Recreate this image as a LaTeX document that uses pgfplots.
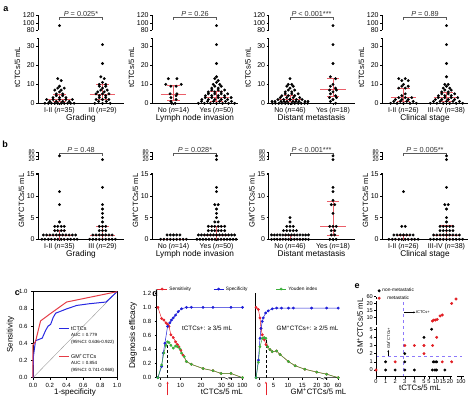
\documentclass[border=0pt]{standalone}
\usepackage{fontspec}
\setmainfont{Liberation Sans}
\usepackage{pgfplots}
\pgfplotsset{compat=1.18}
\usetikzlibrary{arrows.meta}
\definecolor{medred}{RGB}{235,95,105}
\definecolor{brgray}{RGB}{90,90,90}
\definecolor{rocblue}{RGB}{40,40,225}
\definecolor{rocred}{RGB}{228,60,70}
\definecolor{dred}{RGB}{230,35,45}
\definecolor{dblue}{RGB}{30,30,215}
\definecolor{dgreen}{RGB}{60,175,60}
\definecolor{epurple}{RGB}{140,120,250}
\definecolor{ered}{RGB}{225,30,35}
\newcommand{\medA}[3]{%
 \addplot[medred,line width=0.6pt] coordinates {(0.2,#2) (0.8,#2)};
 \addplot[medred,line width=0.6pt] coordinates {(0.36,#1) (0.64,#1)};
 \addplot[medred,line width=0.6pt] coordinates {(0.36,#3) (0.64,#3)};
 \addplot[medred,line width=0.6pt] coordinates {(0.5,#1) (0.5,#3)};}
\newcommand{\medB}[3]{%
 \addplot[medred,line width=0.6pt] coordinates {(1.2,#2) (1.8,#2)};
 \addplot[medred,line width=0.6pt] coordinates {(1.36,#1) (1.64,#1)};
 \addplot[medred,line width=0.6pt] coordinates {(1.36,#3) (1.64,#3)};
 \addplot[medred,line width=0.6pt] coordinates {(1.5,#1) (1.5,#3)};}
\newcommand{\fP}{\fontsize{7.3}{8}\selectfont}
\newcommand{\bracketA}[1]{%
 \draw[brgray,line width=0.6pt] (rel axis cs:0.25,0.945)--(rel axis cs:0.25,0.974)--(rel axis cs:0.75,0.974)--(rel axis cs:0.75,0.945);
 \node[font=\fP,anchor=south,inner sep=0.6pt,text=black!80] at (rel axis cs:0.5,0.974) {#1};}
\newcommand{\bracketB}[1]{%
 \draw[brgray,line width=0.6pt] (rel axis cs:0.25,0.955)--(rel axis cs:0.25,0.985)--(rel axis cs:0.75,0.985)--(rel axis cs:0.75,0.955);
 \node[font=\fP,anchor=south,inner sep=0.6pt,text=black!80] at (rel axis cs:0.5,0.985) {#1};}
\newcommand{\yaxA}{%
 \draw[line width=0.5pt] (axis cs:0,0)--(axis cs:0,34.5) (axis cs:0,34.5)--++(-1.5pt,0);
 \draw[line width=0.5pt] (axis cs:0,38.6)--(axis cs:0,46.6);}
\newcommand{\yaxB}{%
 \draw[line width=0.5pt] (axis cs:0,0)--(axis cs:0,15.3) (axis cs:0,15.3)--++(-1.5pt,0);
 \draw[line width=0.5pt] (axis cs:0,18.4)--(axis cs:0,20.25);}
\newcommand{\sm}{\fontsize{5.4}{6}\selectfont}
\pgfplotsset{
 base/.style={scale only axis, clip=false, tick align=outside, major tick length=2pt,
   tick style={black,line width=0.5pt}, axis line style={-,line width=0.5pt},
   /pgf/number format/assume math mode=true},
 scat/.style={base, width=86pt, xmin=0, xmax=2,
   axis x line*=bottom, axis y line*=left, y axis line style={draw=none},
   xtick={0.5,1.5},
   yticklabel style={font=\fontsize{7}{8}\selectfont, inner sep=1.2pt},
   xticklabel style={font=\fontsize{7}{8}\selectfont, inner sep=1.5pt},
   xlabel style={font=\fontsize{8.3}{9}\selectfont, yshift=4.5pt},
   ylabel style={font=\fontsize{7.6}{8}\selectfont, yshift=-2pt}},
 rowa/.style={scat, height=88.3pt, ymin=0, ymax=46.6,
   ytick={0,10,20,30,38.6,42.5,46.5}, yticklabels={0,10,20,30,80,100,120},
   y filter/.expression={y>50 ? 38.6+(y-80)*0.197 : y},
   ylabel={tCTCs/5 mL}, ylabel style={at={(ticklabel cs:0.41)}}},
 rowb/.style={scat, height=87.6pt, ymin=0, ymax=20.25,
   ytick={0,5,10,15,18.4,19.3,20.2}, yticklabels={0,5,10,15,{\sm 20},{\sm 50},{\sm 80}},
   y filter/.expression={y>17 ? 18.4+(y-20)*0.03 : y},
   ylabel={GM\textsuperscript{+}CTCs/5 mL}, ylabel style={at={(ticklabel cs:0.44)}}},
 dots/.style={only marks, mark=*, mark size=1.25pt, black},
 dsty/.style={mark=*, mark size=1.15pt, line width=0.5pt},
}
\begin{document}
\begin{tikzpicture}
\path[use as bounding box] (0,0) rectangle (474pt,396pt);
% ================= ROW A =================
\begin{axis}[rowa, at={(38pt,292.7pt)}, anchor=south west,
  xticklabels={I-II (\textit{n}=35), III (\textit{n}=29)}, xlabel={Grading}]
\addplot[dots] coordinates {(.16,0)(.24,0)(.31,0)(.39,0)(.46,0)(.54,0)(.61,0)(.69,0)(.76,0)(.84,0)
(.2,2)(.275,1)(.35,2)(.425,1)(.5,2)(.575,1)(.65,2)(.725,1)(.8,2)
(.35,3)(.425,4)(.5,3)(.575,4)(.65,3)(.425,5)(.5,6)(.575,5)
(.39,7)(.46,8)(.54,7)(.61,8)(.5,9)(.46,13)(.54,12)(.5,92)};
\addplot[dots] coordinates {(1.32,0)(1.41,1)(1.5,0)(1.59,1)(1.68,0)
(1.35,2)(1.425,3)(1.5,2)(1.575,3)(1.65,2)(1.35,5)(1.425,4)(1.5,5)(1.575,4)(1.65,5)
(1.39,6)(1.46,7)(1.54,6)(1.61,7)(1.425,9)(1.5,8)(1.575,9)(1.425,10)(1.5,11)(1.575,10)
(1.46,14)(1.54,13)(1.5,21)(1.5,31)};
\medA{1}{2}{5}\medB{2}{5}{10}
\yaxA
\bracketA{\textit{P} = 0.025*}
\end{axis}
\begin{axis}[rowa, at={(152pt,292.7pt)}, anchor=south west,
  xticklabels={No (\textit{n}=14), Yes (\textit{n}=50)}, xlabel={Lymph node invasion}]
\addplot[dots] coordinates {(.46,0)(.54,0)(.44,1)(.56,2)(.44,3)(.56,4)(.42,5)(.58,5)(.32,10)(.44,9)(.56,9)(.68,10)(.38,13)(.58,13)};
\addplot[dots] coordinates {(1.08,0)(1.15,1)(1.22,0)(1.29,1)(1.36,0)(1.43,1)(1.5,0)(1.57,1)(1.64,0)(1.71,1)(1.78,0)(1.85,1)(1.92,0)
(1.16,2)(1.24,3)(1.31,2)(1.39,3)(1.46,2)(1.54,3)(1.61,2)(1.69,3)(1.76,2)(1.84,3)
(1.24,4)(1.31,5)(1.39,4)(1.46,5)(1.54,4)(1.61,5)(1.69,4)(1.76,5)
(1.31,6)(1.39,7)(1.46,6)(1.54,7)(1.61,6)(1.69,7)(1.39,8)(1.46,9)(1.54,8)(1.61,9)
(1.425,10)(1.5,11)(1.575,10)(1.46,13)(1.54,12)(1.5,14)(1.5,21)(1.5,31)(1.5,92)};
\medA{1.5}{5}{9.5}\medB{1}{3}{6.5}
\yaxA
\bracketA{\textit{P} = 0.26}
\end{axis}
\begin{axis}[rowa, at={(268.5pt,292.7pt)}, anchor=south west,
  xticklabels={No (\textit{n}=46), Yes (\textit{n}=18)}, xlabel={Distant metastasis}]
\addplot[dots] coordinates {(.09,0)(.16,0)(.24,0)(.31,0)(.39,0)(.46,0)(.54,0)(.61,0)(.69,0)(.76,0)(.84,0)(.91,0)
(.08,1)(.15,1)(.22,2)(.29,1)(.36,1)(.43,1)(.5,2)(.57,1)(.64,1)(.71,1)(.78,2)(.85,1)(.92,1)
(.275,3)(.35,2)(.425,3)(.5,2)(.575,3)(.65,2)(.725,3)(.31,4)(.39,5)(.46,4)(.54,5)(.61,4)(.69,5)
(.39,6)(.46,7)(.54,6)(.61,7)(.425,9)(.5,8)(.575,9)(.46,10)(.54,10)(.5,13)};
\addplot[dots] coordinates {(1.5,92)(1.5,31)(1.5,21)(1.44,14)(1.56,13)(1.5,10)(1.44,9)(1.56,8)(1.42,7)(1.58,7)(1.5,6)(1.44,5)(1.56,4)(1.42,3)(1.58,3)(1.5,2)(1.44,1)(1.56,0)};
\medA{1}{2}{4}\medB{3.5}{7.5}{13}
\yaxA
\bracketA{\textit{P} < 0.001***}
\end{axis}
\begin{axis}[rowa, at={(382pt,292.7pt)}, anchor=south west,
  xticklabels={I-II (\textit{n}=26), III-IV (\textit{n}=38)}, xlabel={Clinical stage}]
\addplot[dots] coordinates {(.2,0)(.275,1)(.35,0)(.425,1)(.5,0)(.575,1)(.65,0)(.725,1)(.8,0)
(.31,2)(.39,3)(.46,2)(.54,3)(.61,2)(.69,3)(.46,4)(.54,5)(.39,8)(.46,9)(.54,8)(.61,9)(.5,10)
(.39,13)(.46,12)(.54,13)(.61,12)};
\addplot[dots] coordinates {(1.125,0)(1.2,1)(1.275,0)(1.35,1)(1.425,0)(1.5,1)(1.575,0)(1.65,1)(1.725,0)(1.8,1)(1.875,0)
(1.24,2)(1.31,3)(1.39,2)(1.46,3)(1.54,2)(1.61,3)(1.69,2)(1.76,3)
(1.31,4)(1.39,5)(1.46,4)(1.54,5)(1.61,4)(1.69,5)(1.39,6)(1.46,7)(1.54,6)(1.61,7)
(1.425,8)(1.5,9)(1.575,8)(1.46,10)(1.54,10)(1.5,14)(1.5,21)(1.5,31)(1.5,92)};
\medA{1}{3}{8}\medB{1}{3}{6}
\yaxA
\bracketA{\textit{P} = 0.89}
\end{axis}
% ================= ROW B =================
\begin{axis}[rowb, at={(38pt,156.7pt)}, anchor=south west,
  xticklabels={I-II (\textit{n}=35), III (\textit{n}=29)}, xlabel={Grading}]
\addplot[dots] coordinates {(.09,0)(.16,0)(.24,0)(.31,0)(.39,0)(.46,0)(.54,0)(.61,0)(.69,0)(.76,0)(.84,0)(.91,0)
(.125,1)(.2,1)(.275,1)(.35,1)(.425,1)(.5,1)(.575,1)(.65,1)(.725,1)(.8,1)(.875,1)
(.39,2)(.46,2)(.54,2)(.61,2)(.39,3)(.46,3)(.54,3)(.61,3)(.5,4)(.5,8)(.5,11)(.5,50)};
\addplot[dots] coordinates {(1.2,0)(1.275,0)(1.35,0)(1.425,0)(1.5,0)(1.575,0)(1.65,0)(1.725,0)(1.8,0)
(1.275,1)(1.35,1)(1.425,1)(1.5,1)(1.575,1)(1.65,1)(1.725,1)(1.425,2)(1.5,2)(1.575,2)
(1.425,3)(1.5,3)(1.575,3)(1.5,4)(1.5,5)(1.5,6)(1.5,7)(1.5,8)(1.5,12)(1.5,21)};
\medA{0}{1}{2}\medB{0}{1}{3}
\yaxB
\bracketB{\textit{P} = 0.48}
\end{axis}
\begin{axis}[rowb, at={(152pt,156.7pt)}, anchor=south west,
  xticklabels={No (\textit{n}=14), Yes (\textit{n}=50)}, xlabel={Lymph node invasion}]
\addplot[dots] coordinates {(.2,0)(.275,0)(.35,0)(.425,0)(.5,0)(.575,0)(.65,0)(.725,0)(.8,0)
(.35,1)(.425,1)(.5,1)(.575,1)(.65,1)};
\addplot[dots] coordinates {(1.045,0)(1.115,0)(1.185,0)(1.255,0)(1.325,0)(1.395,0)(1.465,0)(1.535,0)(1.605,0)(1.675,0)(1.745,0)(1.815,0)(1.885,0)(1.955,0)
(1.08,1)(1.15,1)(1.22,1)(1.29,1)(1.36,1)(1.43,1)(1.5,1)(1.57,1)(1.64,1)(1.71,1)(1.78,1)(1.85,1)(1.92,1)
(1.31,2)(1.39,2)(1.46,2)(1.54,2)(1.61,2)(1.69,2)(1.31,3)(1.39,3)(1.46,3)(1.54,3)(1.61,3)(1.69,3)
(1.46,4)(1.54,4)(1.5,5)(1.5,6)(1.5,7)(1.46,8)(1.54,8)(1.5,11)(1.5,12)(1.5,21)(1.5,50)};
\medA{0}{0}{0}\medB{0}{1}{3}
\yaxB
\bracketB{\textit{P} = 0.028*}
\end{axis}
\begin{axis}[rowb, at={(268.5pt,156.7pt)}, anchor=south west,
  xticklabels={No (\textit{n}=46), Yes (\textit{n}=18)}, xlabel={Distant metastasis}]
\addplot[dots] coordinates {(.07,0)(.136,0)(.202,0)(.268,0)(.334,0)(.4,0)(.466,0)(.534,0)(.6,0)(.666,0)(.732,0)(.798,0)(.864,0)(.93,0)
(.07,1)(.136,1)(.202,1)(.268,1)(.334,1)(.4,1)(.466,1)(.534,1)(.6,1)(.666,1)(.732,1)(.798,1)(.864,1)(.93,1)
(.35,2)(.425,2)(.5,2)(.575,2)(.65,2)(.425,3)(.5,3)(.575,3)(.5,4)(.5,5)};
\addplot[dots] coordinates {(1.5,50)(1.5,21)(1.5,12)(1.5,11)(1.5,9)(1.46,8)(1.54,8)(1.5,6)(1.425,3)(1.5,3)(1.575,3)(1.46,2)(1.54,2)(1.46,1)(1.54,1)(1.425,0)(1.5,0)(1.575,0)};
\medA{0}{0}{1}\medB{1}{3}{8.8}
\yaxB
\bracketB{\textit{P} < 0.001***}
\end{axis}
\begin{axis}[rowb, at={(382pt,156.7pt)}, anchor=south west,
  xticklabels={I-II (\textit{n}=26), III-IV (\textit{n}=38)}, xlabel={Clinical stage}]
\addplot[dots] coordinates {(.16,0)(.24,0)(.31,0)(.39,0)(.46,0)(.54,0)(.61,0)(.69,0)(.76,0)(.84,0)
(.275,1)(.35,1)(.425,1)(.5,1)(.575,1)(.65,1)(.725,1)(.46,3)(.54,3)(.5,11)};
\addplot[dots] coordinates {(1.125,0)(1.2,0)(1.275,0)(1.35,0)(1.425,0)(1.5,0)(1.575,0)(1.65,0)(1.725,0)(1.8,0)(1.875,0)
(1.2,1)(1.275,1)(1.35,1)(1.425,1)(1.5,1)(1.575,1)(1.65,1)(1.725,1)(1.8,1)
(1.35,2)(1.425,2)(1.5,2)(1.575,2)(1.65,2)(1.35,3)(1.425,3)(1.5,3)(1.575,3)(1.65,3)
(1.5,4)(1.5,5)(1.5,7)(1.46,8)(1.54,8)(1.5,12)(1.5,21)(1.5,50)};
\medA{0}{0}{1}\medB{0}{1}{3.3}
\yaxB
\bracketB{\textit{P} = 0.005**}
\end{axis}
% ================= PANEL C =================
\begin{axis}[base, width=84pt, height=86pt, at={(33pt,18.3pt)}, anchor=south west,
  xmin=0, xmax=1, ymin=0, ymax=1, tick pos=left,
  xtick={0,0.2,0.4,0.6,0.8,1}, ytick={0,0.2,0.4,0.6,0.8,1},
  ticklabel style={font=\fontsize{6}{7}\selectfont, /pgf/number format/.cd, fixed, fixed zerofill, precision=1},
  xlabel={1-specificity}, ylabel={Sensitivity},
  label style={font=\fontsize{8}{9}\selectfont},
  xlabel style={yshift=6pt}, ylabel style={yshift=-2pt}]
\addplot[gray!80, line width=0.4pt] coordinates {(0,0)(1,1)};
\addplot[rocblue, line width=1pt] coordinates {(0,0)(0.005,0.25)(0.03,0.43)(0.11,0.46)(0.15,0.55)(0.18,0.6)(0.21,0.62)(0.24,0.7)(0.27,0.75)(0.4,0.8)(0.52,0.84)(0.67,0.86)(0.87,0.88)(1,1)};
\addplot[rocred, line width=1pt] coordinates {(0,0)(0,0.38)(0.03,0.42)(0.05,0.5)(0.09,0.66)(0.2,0.74)(0.4,0.88)(0.7,0.94)(1,1)};
\draw[rocblue, line width=1pt] (axis cs:0.31,0.575)--(axis cs:0.43,0.575);
\node[anchor=west, inner sep=1pt, font=\fontsize{5.4}{6}\selectfont] at (axis cs:0.44,0.575) {tCTCs};
\node[anchor=west, inner sep=1pt, font=\fontsize{4.5}{5}\selectfont] at (axis cs:0.44,0.50) {AUC = 0.779};
\node[anchor=west, inner sep=1pt, font=\fontsize{4.5}{5}\selectfont] at (axis cs:0.44,0.415) {(95\%CI: 0.636-0.922)};
\draw[rocred, line width=1pt] (axis cs:0.31,0.25)--(axis cs:0.43,0.25);
\node[anchor=west, inner sep=1pt, font=\fontsize{5.4}{6}\selectfont] at (axis cs:0.44,0.25) {GM\textsuperscript{+}CTCs};
\node[anchor=west, inner sep=1pt, font=\fontsize{4.5}{5}\selectfont] at (axis cs:0.44,0.17) {AUC = 0.854};
\node[anchor=west, inner sep=1pt, font=\fontsize{4.5}{5}\selectfont] at (axis cs:0.44,0.085) {(95\%CI: 0.741-0.968)};
\end{axis}
% ================= PANEL D =================
\begin{axis}[base, width=86.8pt, height=84.4pt, at={(156.7pt,18.3pt)}, anchor=south west,
  xmin=-1.6, xmax=40.7, ymin=0, ymax=1.2,
  axis x line*=bottom, axis y line*=left, x axis line style={draw=none},
  xtick={0,10,20,30,34.6,40.2}, xticklabels={0,10,20,30,50,100},
  ytick={0,0.2,0.4,0.6,0.8,1.0,1.2},
  ticklabel style={font=\fontsize{6}{7}\selectfont},
  yticklabel style={/pgf/number format/.cd, fixed, fixed zerofill, precision=1},
  x filter/.expression={x>40 ? 34.6+(x-50)*0.112 : x},
  ylabel={Diagnosis efficacy}, ylabel style={font=\fontsize{8.3}{9}\selectfont, yshift=-1pt},
  legend columns=3,
  legend style={at={(0.0,1.05)}, anchor=west, draw=none, fill=none, inner sep=0pt,
    font=\fontsize{4.8}{5.5}\selectfont, column sep=0pt},
  legend image code/.code={\draw[mark repeat=2,mark phase=2,#1] plot coordinates {(0pt,0pt)(5pt,0pt)(10pt,0pt)};}]
\addplot[dsty, dred] coordinates {(-1,1.0)(0.8,0.84)(1.9,0.82)(2.9,0.78)(3.7,0.76)(4.4,0.73)(5.3,0.61)(6.5,0.57)(7.6,0.51)(8.5,0.47)(9.2,0.44)(10.2,0.39)(11.3,0.32)(12.9,0.23)(15.3,0.19)(21,0.13)(25.8,0.10)(29.8,0.06)(50,0.06)(100,0)};
\addplot[dsty, dblue] coordinates {(-1,0)(0.8,0.16)(1.6,0.35)(2.4,0.49)(3.7,0.73)(4.8,0.78)(5.6,0.82)(6.5,0.85)(7.6,0.89)(8.9,0.94)(10.5,0.98)(12.9,1.0)(15.3,1.0)(21,1.0)(25.8,1.0)(50,1.0)(100,1.0)};
\addplot[dsty, dgreen] coordinates {(-1,0)(0.8,0.18)(1.9,0.35)(2.9,0.46)(3.7,0.51)(4.4,0.50)(5.3,0.46)(6.5,0.42)(7.6,0.45)(8.5,0.44)(9.7,0.41)(10.5,0.35)(11.8,0.30)(12.9,0.23)(15.3,0.19)(21,0.13)(25.8,0.10)(29.8,0.06)(50,0.06)(100,0)};
\legend{\makebox[42pt][l]{Sensitivity}, \makebox[48pt][l]{Specificity}, Youden index}
\addplot[black, densely dashed, line width=0.5pt, forget plot] coordinates {(3.7,0)(3.7,0.51)};
\draw[line width=0.5pt] (axis cs:-1.6,0)--(axis cs:31.5,0) (axis cs:31.5,0)--++(0,-1.5pt);
\draw[line width=0.5pt] (axis cs:33.3,0)--(axis cs:40.7,0) (axis cs:33.3,0)--++(0,-1.5pt);
\draw[dred, line width=0.6pt, -{Stealth[length=2.2pt,width=2pt]}] (axis cs:3.7,-0.25)--(axis cs:3.7,-0.055);
\node[font=\fontsize{6.3}{7}\selectfont] at (axis cs:23,0.70) {tCTCs+: ≥ 3/5 mL};
\node[font=\fontsize{7.8}{9}\selectfont] at (rel axis cs:0.75,0) [yshift=-13.6pt] {tCTCs/5 mL};
\end{axis}
\begin{axis}[base, width=83.8pt, height=84.4pt, at={(255.5pt,18.3pt)}, anchor=south west,
  xmin=-1.2, xmax=27.8, ymin=0, ymax=1.2,
  axis x line*=bottom, axis y line*=left, x axis line style={draw=none},
  xtick={0,5,10,15,20,23.4,27.4}, xticklabels={0,5,10,15,20,30,60}, ytick=\empty,
  ticklabel style={font=\fontsize{6}{7}\selectfont},
  x filter/.expression={x>25 ? 23.4+(x-30)*0.134 : x}]
\addplot[dsty, dred] coordinates {(-1,1.0)(-0.2,0.97)(0.35,0.85)(0.7,0.70)(1.15,0.61)(1.85,0.54)(2.4,0.47)(3,0.44)(3.8,0.40)(4.6,0.37)(6.1,0.38)(7.3,0.33)(10.2,0.23)(12.5,0.17)(15.9,0.12)(20,0.08)(30,0.05)(60,0)};
\addplot[dsty, dblue] coordinates {(-1,0)(-0.2,0.25)(0.35,0.56)(0.7,0.70)(1.15,0.80)(1.5,0.85)(2.3,0.92)(3.2,0.95)(4.6,0.98)(6.1,0.99)(7.8,0.99)(10.2,0.99)(11.9,0.99)(18.2,0.99)(30,0.99)(60,0.99)};
\addplot[dsty, dgreen] coordinates {(-1,0)(-0.2,0.22)(0.35,0.44)(1.15,0.56)(1.85,0.57)(2.4,0.56)(3,0.44)(3.8,0.40)(4.6,0.37)(6.1,0.38)(7.3,0.33)(10.2,0.23)(12.5,0.17)(15.9,0.12)(20,0.08)(30,0.05)(60,0)};
\addplot[black, densely dashed, line width=0.5pt] coordinates {(2.4,0)(2.4,0.56)};
\draw[line width=0.5pt] (axis cs:-1.2,0)--(axis cs:21.2,0) (axis cs:21.2,0)--++(0,-1.5pt);
\draw[line width=0.5pt] (axis cs:22.5,0)--(axis cs:27.8,0) (axis cs:22.5,0)--++(0,-1.5pt);
\draw[dred, line width=0.6pt, -{Stealth[length=2.2pt,width=2pt]}] (axis cs:2.4,-0.25)--(axis cs:2.4,-0.055);
\node[font=\fontsize{6.3}{7}\selectfont] at (axis cs:16.8,0.70) {GM\textsuperscript{+}CTCs+: ≥ 2/5 mL};
\node[font=\fontsize{7.8}{9}\selectfont] at (rel axis cs:0.75,0) [yshift=-13.6pt] {GM\textsuperscript{+}CTCs/5 mL};
\end{axis}
% ================= PANEL E =================
\begin{axis}[base, width=87.8pt, height=80.2pt, at={(376pt,19.3pt)}, anchor=south west,
  xmin=0, xmax=9.15, ymin=-0.82, ymax=9.0,
  axis x line*=bottom, axis y line*=left, x axis line style={draw=none}, y axis line style={draw=none},
  xtick={0,1,2,3,4,5,5.52,6.25,6.98,7.71,8.85}, xticklabels={0,1,2,3,4,5,5,10,15,20,100},
  ytick={0,1,2,3,4,5,6.45,7.30,8.16,8.98}, yticklabels={0,1,2,3,4,5,10,15,20,60},
  ticklabel style={font=\fontsize{5.6}{6}\selectfont, inner sep=1pt},
  x filter/.expression={x>20 ? 7.71+(x-20)*0.01425 : (x>5 ? 5.52+(x-5)*0.1458 : x)},
  y filter/.expression={y>20 ? 8.16+(y-20)*0.0205 : (y>5 ? 5.59+(y-5)*0.171 : y)},
  xlabel={tCTCs/5 mL}, ylabel={GM\textsuperscript{+}CTCs/5 mL},
  label style={font=\fontsize{7.8}{9}\selectfont},
  xlabel style={yshift=4pt}, ylabel style={at={(ticklabel cs:0.63)}, yshift=-1pt},
  legend style={at={(0.02,1.13)}, anchor=north west, draw=none, fill=none, inner sep=0pt,
    font=\fontsize{4.8}{5.5}\selectfont, row sep=-1.5pt},
  legend image code/.code={\draw[#1] plot coordinates {(2pt,0pt)};}]
\addplot[only marks, mark=*, mark size=1.25pt, black] coordinates {(1,1)(1,0)(2,0)(3,0)(4,0)(3,1)(3,2)(5,4)(6.9,5)(8.1,1)(9.3,1)(10.5,1)(7.4,0)(9.3,0)(10.5,0)(16.4,0)};
\addplot[only marks, mark=*, mark size=1.25pt, ered] coordinates {(0,0)(2,1)(3,3)(4,3)(5,3)(5,2)(7.6,3)(10.5,4)(14.5,1)(32,1)(7.5,7.4)(8.5,8.1)(9.7,8.1)(10.9,8.6)(12.9,11)(14.5,11.7)(32,20)(64,46)};
\legend{non-metastatic, metastatic}
\addplot[epurple, dashed, line width=0.7pt, forget plot] coordinates {(2.85,-0.82)(2.85,30)};
\addplot[epurple, dashed, line width=0.7pt, forget plot] coordinates {(0,1.63)(110,1.63)};
\draw[line width=0.5pt] (axis cs:0,-0.82)--(axis cs:5.25,-0.82) (axis cs:5.4,-0.82)--(axis cs:7.95,-0.82) (axis cs:8.45,-0.82)--(axis cs:9.15,-0.82);
\draw[line width=0.5pt] (axis cs:0,-0.82)--(axis cs:0,5.25) (axis cs:0,5.45)--(axis cs:0,8.4) (axis cs:0,8.65)--(axis cs:0,9.0);
\draw[line width=0.4pt, -{Stealth[length=2pt,width=1.8pt]}] (axis cs:2.95,7.06)--(axis cs:4.1,7.06);
\node[anchor=west, inner sep=0.5pt, font=\fontsize{4}{5}\selectfont] at (axis cs:4.1,7.06) {tCTCs+};
\draw[line width=0.4pt, -{Stealth[length=2pt,width=1.8pt]}] (axis cs:1.28,1.75)--(axis cs:1.28,2.45);
\node[rotate=90, anchor=west, inner sep=0.5pt, font=\fontsize{4}{5}\selectfont] at (axis cs:1.28,2.5) {GM\textsuperscript{+}CTCs+};
\end{axis}
% panel letters
\node[font=\bfseries\fontsize{9}{10}\selectfont] at (6pt,387pt) {a};
\node[font=\bfseries\fontsize{9}{10}\selectfont] at (5pt,252pt) {b};
\node[font=\bfseries\fontsize{9}{10}\selectfont] at (17.3pt,103pt) {c};
\node[font=\bfseries\fontsize{9}{10}\selectfont] at (155pt,103pt) {d};
\node[font=\bfseries\fontsize{9}{10}\selectfont] at (357pt,110pt) {e};
\end{tikzpicture}
\end{document}
